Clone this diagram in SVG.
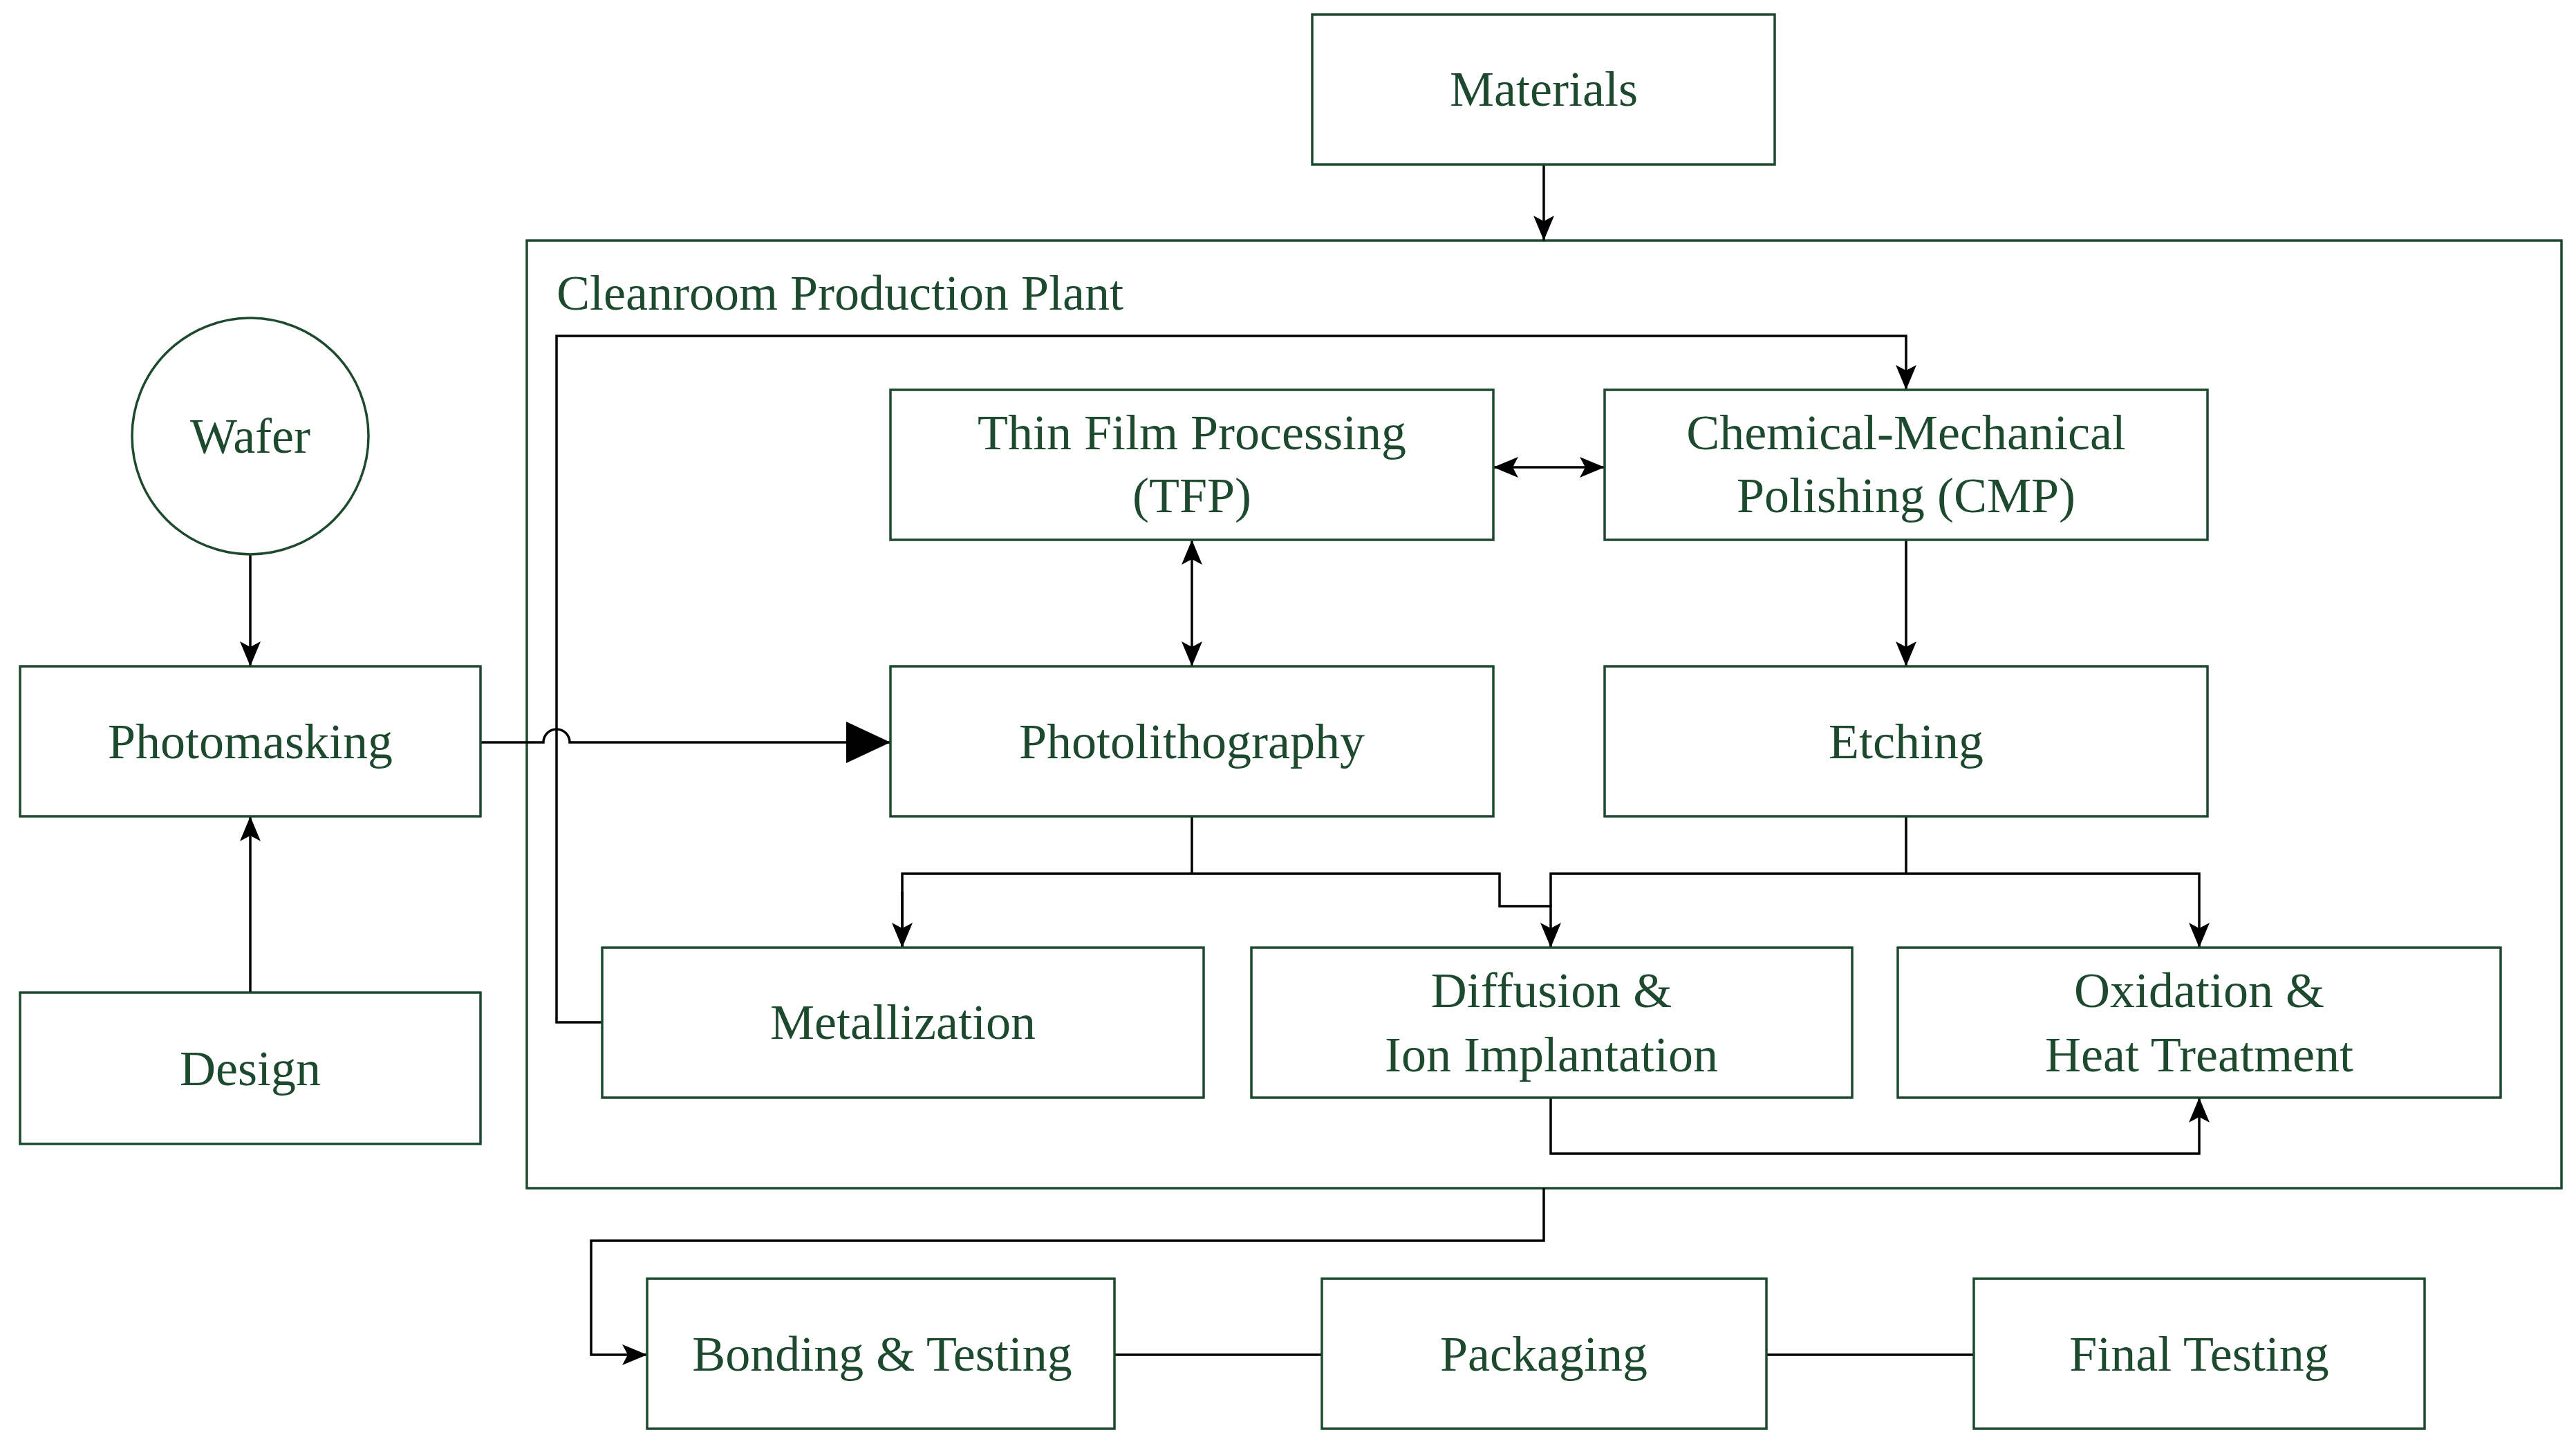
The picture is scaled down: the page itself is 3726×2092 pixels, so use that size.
<svg xmlns="http://www.w3.org/2000/svg" width="3726" height="2092" viewBox="0 0 3726 2092">
<style>
.n{fill:#fff;stroke:#1d4a2e;stroke-width:3.5}
.t{font-family:"Liberation Serif",serif;font-size:72px;fill:#1d4a2e;text-anchor:middle}
.c{fill:none;stroke:#000;stroke-width:3.5}
</style>
<defs>
<marker id="a" markerUnits="userSpaceOnUse" markerWidth="40" markerHeight="30" refX="36" refY="15" orient="auto-start-reverse"><path d="M0,0 L36,15 L0,30 L8,15 Z" fill="#000"/></marker>
<marker id="b" markerUnits="userSpaceOnUse" markerWidth="66" markerHeight="60" refX="64" refY="30" orient="auto"><path d="M0,0 L64,30 L0,60 Z" fill="#000"/></marker>
</defs>
<rect width="3726" height="2092" fill="#fff"/>
<g id="cleanroom"><rect class="n" x="762" y="348" width="2943" height="1371"/><text class="t" x="805" y="448" style="text-anchor:start">Cleanroom Production Plant</text></g>
<g id="connectors">
<path class="c" d="M2233,238 V348" marker-end="url(#a)"/>
<path class="c" d="M871,1479 H805 V486 H2757 V564" marker-end="url(#a)"/>
<path class="c" d="M2160,676 H2321" marker-start="url(#a)" marker-end="url(#a)"/>
<path class="c" d="M1724,781 V964" marker-start="url(#a)" marker-end="url(#a)"/>
<path class="c" d="M2757,781 V964" marker-end="url(#a)"/>
<path class="c" d="M362,802 V964" marker-end="url(#a)"/>
<path class="c" d="M362,1436 V1181" marker-end="url(#a)"/>
<path class="c" d="M695,1074 H786 A19,19 0 0 1 824,1074 H1288" marker-end="url(#b)"/>
<path class="c" d="M1724,1181 V1264"/>
<path class="c" d="M1305,1371 V1264 H2169 V1311 H2243 V1371" marker-end="url(#a)"/>
<path class="c" d="M1305,1290 V1371" marker-end="url(#a)"/>
<path class="c" d="M2757,1181 V1264 M2243,1311 V1264 H3181 V1371" marker-end="url(#a)"/>
<path class="c" d="M2243,1588 V1669 H3181 V1588" marker-end="url(#a)"/>
<path class="c" d="M2233,1719 V1795 H855 V1960 H936" marker-end="url(#a)"/>
<path class="c" d="M1612,1960 H1912 M2555,1960 H2855"/>
</g>
<g id="materials"><rect class="n" x="1898" y="21" width="669" height="217"/><text class="t" x="2233" y="153">Materials</text></g>
<g id="wafer"><circle class="n" cx="362" cy="631" r="171"/><text class="t" x="362" y="655">Wafer</text></g>
<g id="photomasking"><rect class="n" x="29" y="964" width="666" height="217"/><text class="t" x="362" y="1097">Photomasking</text></g>
<g id="design"><rect class="n" x="29" y="1436" width="666" height="219"/><text class="t" x="362" y="1570">Design</text></g>
<g id="tfp"><rect class="n" x="1288" y="564" width="872" height="217"/><text class="t" x="1724" y="650">Thin Film Processing</text><text class="t" x="1724" y="741">(TFP)</text></g>
<g id="cmp"><rect class="n" x="2321" y="564" width="872" height="217"/><text class="t" x="2757" y="650">Chemical-Mechanical</text><text class="t" x="2757" y="741">Polishing (CMP)</text></g>
<g id="photolithography"><rect class="n" x="1288" y="964" width="872" height="217"/><text class="t" x="1724" y="1097">Photolithography</text></g>
<g id="etching"><rect class="n" x="2321" y="964" width="872" height="217"/><text class="t" x="2757" y="1097">Etching</text></g>
<g id="metallization"><rect class="n" x="871" y="1371" width="870" height="217"/><text class="t" x="1306" y="1503">Metallization</text></g>
<g id="diffusion"><rect class="n" x="1810" y="1371" width="869" height="217"/><text class="t" x="2244" y="1457">Diffusion &amp;</text><text class="t" x="2244" y="1550">Ion Implantation</text></g>
<g id="oxidation"><rect class="n" x="2745" y="1371" width="872" height="217"/><text class="t" x="3181" y="1457">Oxidation &amp;</text><text class="t" x="3181" y="1550">Heat Treatment</text></g>
<g id="bonding"><rect class="n" x="936" y="1850" width="676" height="217"/><text class="t" x="1276" y="1983">Bonding &amp; Testing</text></g>
<g id="packaging"><rect class="n" x="1912" y="1850" width="643" height="217"/><text class="t" x="2233" y="1983">Packaging</text></g>
<g id="final"><rect class="n" x="2855" y="1850" width="652" height="217"/><text class="t" x="3181" y="1983">Final Testing</text></g>
</svg>
